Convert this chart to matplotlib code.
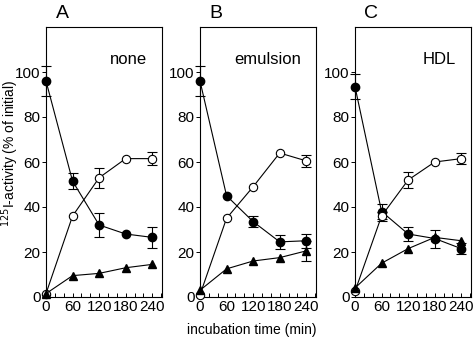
import numpy as np
import matplotlib.pyplot as plt

plt.rcParams['font.family'] = ['Liberation Sans', 'DejaVu Sans']

time = [0, 60, 120, 180, 240]
panels = ['A', 'B', 'C']
conditions = ['none', 'emulsion', 'HDL']

# filled circles
filled = [[96, 51.5, 32, 28, 26.5],
          [96, 45, 33.5, 24.5, 25],
          [93.5, 38, 28, 26, 21.5]]
filled_err = [[6.5, 3.5, 5.5, 0, 4.5],
              [6.5, 0, 2.5, 3, 3],
              [5.5, 3.5, 3, 4, 2.5]]
# open circles
opened = [[1.5, 36, 53, 61.5, 61.5],
          [1, 35, 49, 64, 60.5],
          [2.5, 36, 52, 60, 61.5]]
opened_err = [[0, 0, 4.5, 0, 3],
              [0, 0, 0, 0, 2.5],
              [0, 2, 3.5, 0, 2.5]]
# triangles
tri = [[1.5, 9.5, 10.5, 13, 14.5],
       [3, 12.5, 16, 17.5, 20.5],
       [4, 15, 21.5, 26.5, 25]]
tri_err = [[0, 0, 0, 0, 0],
           [0, 0, 0, 0, 4.5],
           [0, 0, 0, 0, 0]]

fig = plt.figure(figsize=(4.74, 3.40), dpi=100)
lefts = [46, 200, 355]


def draw(ax, y, err, **kw):
    ax.plot(time, y, color='black', lw=0.8, clip_on=False, zorder=3, **kw)
    t = np.array(time)
    y = np.array(y)
    e = np.array(err)
    m = e > 0
    if m.any():
        ax.errorbar(t[m], y[m], yerr=e[m], fmt='none', ecolor='black',
                    elinewidth=0.8, capsize=3.5, capthick=0.8, clip_on=False, zorder=2)


for i in range(3):
    ax = fig.add_axes([lefts[i] / 474, 43 / 340, 116 / 474, 270 / 340])
    draw(ax, filled[i], filled_err[i], marker='o', ms=6, mfc='black', mec='black')
    draw(ax, opened[i], opened_err[i], marker='o', ms=6, mfc='white', mec='black', mew=0.8)
    draw(ax, tri[i], tri_err[i], marker='^', ms=6, mfc='black', mec='black')
    ax.set_xlim(0, 262)
    ax.set_ylim(0, 120)
    ax.set_xticks([0, 60, 120, 180, 240])
    ax.set_xticks(np.arange(0, 261, 20), minor=True)
    ax.set_yticks([0, 20, 40, 60, 80, 100])
    ax.tick_params(axis='x', which='both', direction='in', length=3, width=0.7,
                   labelsize=11, pad=2)
    ax.tick_params(axis='y', direction='out', length=3, width=0.7, labelsize=11, pad=1)
    for s in ax.spines.values():
        s.set_linewidth(0.8)
    ax.text(0.87, 0.88, conditions[i], transform=ax.transAxes, ha='right',
            va='center', fontsize=12)
    fig.text((lefts[i] + 16) / 474, 1 - 13 / 340, panels[i], ha='center',
             va='center', fontsize=14)

fig.text(10 / 474, 0.55, '$^{125}$I-activity (% of initial)', rotation=90,
         ha='center', va='center', fontsize=10)
fig.text(252 / 474, 1 - 330 / 340, 'incubation time (min)', ha='center',
         va='center', fontsize=10)

fig.savefig('out.png', dpi=100)
